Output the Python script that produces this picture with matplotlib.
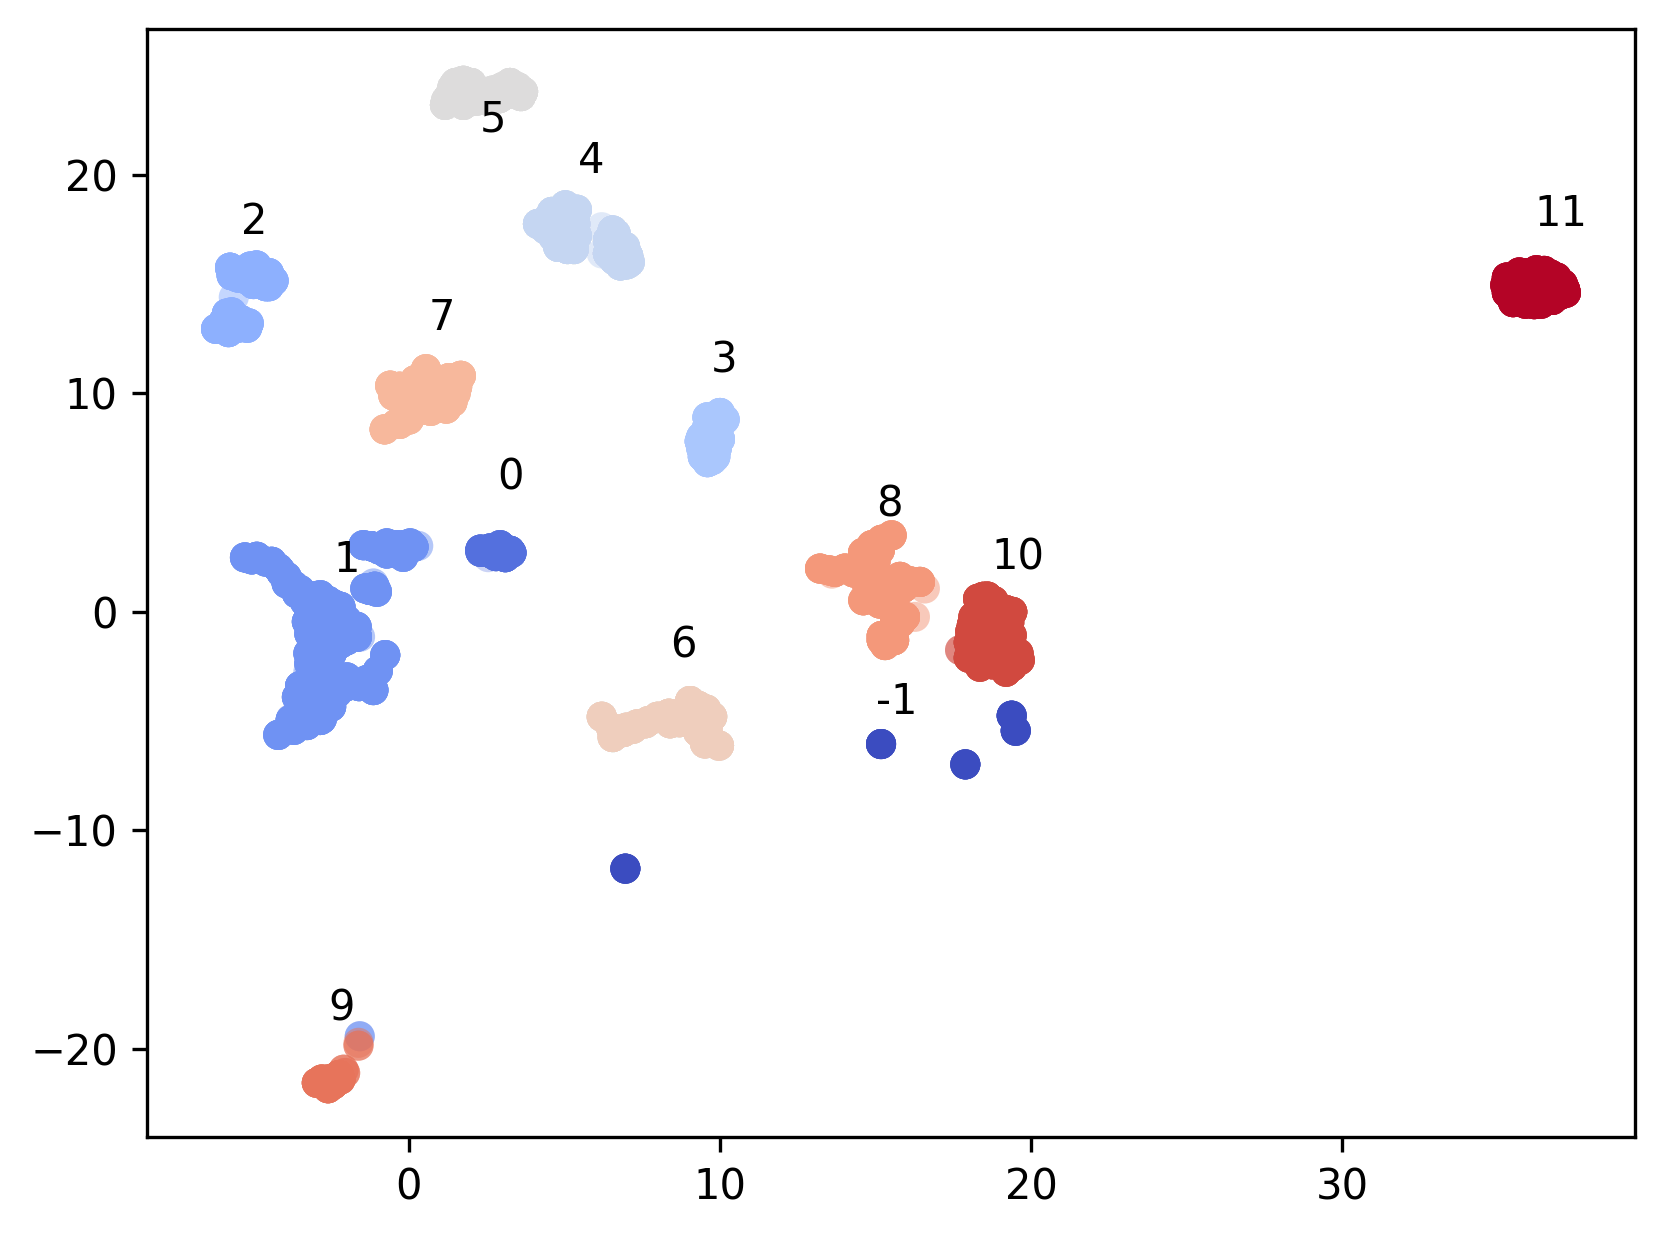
import numpy as np
import matplotlib
matplotlib.use('Agg')
import matplotlib.pyplot as plt

# Pontos de cada grupo
x_m1 = [15.18, 17.89, 19.38, 19.51, 6.96]
y_m1 = [-6.05, -6.98, -4.75, -5.44, -11.75]

x_0 = [2.3, 2.93, 3.25, 3.1, 2.75, 2.6, 2.6, 2.9, 2.5, 2.3, 3.3, 2.8, 3.0]
y_0 = [2.85, 3.05, 2.8, 2.5, 2.8, 2.9, 2.7, 2.65, 2.75, 2.75, 2.7, 2.55, 2.6]

x_1 = [-5.27, -4.89, -4.41, -3.93, -3.93, -2.85, -3.34, -2.37, -3.28, -1.68, -2.53, -2.0, -3.23, -2.48,
       -0.76, -2.75, -1.14, -1.78, -3.28, -2.64, -2.8, -3.28, -4.2, -3.71, -3.5,
       -1.46, -0.71, -0.34, 0.15, -0.71, -0.18, -1.19, -1.4, -1.03,
       -2.9, -3.0, -2.3, -2.6, -3.0,
       -1.2, -0.95, -0.5, -0.1, -0.4, -0.95,
       -5.05, -4.6, -4.2, -4.1, -3.7, -3.5,
       -3.1, -3.2, -2.9, -2.6, -2.7, -2.2, -1.9, -2.9, -3.2, -2.9, -2.7, -3.0,
       -2.4, -2.0, -1.6, -3.0, -3.1, -2.9, -3.1, -3.4, -2.8, -3.7, -3.0, -2.4,
       -1.25, -1.1, -1.25, -1.0,
       -2.2, -2.0, -2.1, -2.75, -1.67, -2.2, -2.3, -2.5, -2.85, -2.0, -3.6, -3.5, -3.07, -3.8,
       -2.3, -1.35, -3.07, -3.2, -4.14, -3.82, -3.6, -3.39, -1.14, -0.5, 0.04]
y_1 = [2.49, 2.52, 2.29, 1.6, 1.3, 0.76, 0.46, 0.31, -0.45, -0.68, -0.84, -1.3, -1.9, -1.9,
       -1.98, -2.82, -3.58, -3.27, -3.58, -3.88, -4.49, -5.18, -5.63, -5.1, -4.49,
       3.05, 3.13, 3.05, 2.97, 2.67, 2.52, 0.99, 1.07, 0.92,
       -0.3, -1.2, -0.2, -3.2, -1.0,
       3.0, 2.95, 3.05, 3.0, 2.7, 2.85,
       2.4, 2.3, 2.0, 1.8, 1.2, 1.0,
       0.7, 0.1, 0.1, 0.5, -0.3, -0.3, -0.7, -1.0, -1.0, -1.7, -2.3, -2.3,
       -2.9, -3.0, -3.4, -3.0, -3.5, -4.0, -4.5, -4.9, -4.9, -5.4, -4.9, -3.6,
       1.0, 1.15, -3.3, -2.7,
       0.23, -0.38, -1.0, 0.23, -1.14, -1.45, -3.7, -4.34, -4.95, -3.4, -3.9, -3.4, -3.73, -4.95,
       -2.97, -3.12, -1.75, -2.36, 1.9, 1.3, 0.84, 0.69, 2.97, 2.75, 3.13]

x_2 = [-5.75, -4.9, -4.35, -5.3, -4.5, -6.2, -5.85, -5.15, -5.8, -5.2,
       -5.5, -5.1, -5.5, -4.9, -4.6, -4.5, -4.8, -5.6,
       -6.0, -5.5, -5.6, -5.95, -5.4, -5.7,
       -5.3, -5.0, -4.6, -5.7, -5.7, -5.4, -5.2]
y_2 = [15.75, 15.85, 15.15, 15.5, 14.9, 12.95, 13.65, 13.2, 12.8, 15.2,
       15.6, 15.8, 15.3, 15.3, 15.3, 15.5, 15.6, 15.4,
       13.0, 13.0, 13.3, 13.3, 13.2, 13.0,
       15.3, 15.0, 14.9, 15.4, 13.7, 13.35, 13.0]

x_3 = [10.0, 10.15, 9.4, 9.6, 9.8, 9.7, 9.6, 9.6, 9.5, 9.6, 9.7, 9.9, 10.0, 9.75, 9.5,
       9.35, 9.9, 10.0, 9.85, 9.6, 9.4, 9.45]
y_3 = [9.1, 8.8, 8.0, 6.85, 7.2, 8.3, 8.9, 8.5, 8.1, 7.6, 7.3, 8.4, 8.6, 6.95, 7.5,
       7.8, 7.5, 7.9, 7.1, 7.0, 7.5, 7.1]

x_4 = [4.15, 5.03, 5.35, 5.1, 4.65, 4.9, 6.55, 7.1, 6.8, 6.4,
       4.4, 4.7, 4.9, 5.2, 4.4, 4.9, 5.3, 5.3, 6.6, 6.5, 6.9, 6.6, 7.0, 6.65,
       4.6, 5.4, 5.4, 5.3, 4.8, 7.05, 6.4, 6.95]
y_4 = [17.75, 18.6, 17.75, 16.6, 17.15, 17.6, 17.45, 16.0, 15.85, 16.4,
       17.9, 18.1, 18.0, 18.2, 17.5, 16.9, 17.1, 18.2, 17.0, 16.7, 16.2, 16.1, 15.9, 17.3,
       18.3, 18.4, 17.2, 16.6, 16.7, 16.3, 17.0, 16.7]

x_5 = [1.16, 1.75, 1.75, 3.25, 3.67, 2.93, 2.5, 3.3, 1.2, 1.5, 2.0, 2.2, 2.7, 3.0, 3.5, 1.3, 2.05, 3.0,
       1.4, 1.9, 2.2, 1.5, 2.9, 3.6, 2.2, 2.5]
y_5 = [23.2, 24.3, 23.2, 24.2, 23.8, 23.75, 23.7, 23.7, 23.4, 23.8, 24.2, 23.6, 23.85, 24.0, 24.0, 23.6, 23.4, 23.6,
       24.0, 24.1, 23.9, 24.2, 23.5, 23.6, 23.4, 23.4]

x_6 = [6.2, 6.55, 7.34, 8.36, 9.04, 9.56, 9.52, 9.97, 8.7, 9.4, 7.0,
       6.9, 7.2, 7.7, 8.0, 8.5, 8.9, 9.3, 9.3, 9.5, 9.8, 9.1, 7.6, 6.5,
       9.3, 9.75, 9.6, 8.8, 8.4]
y_6 = [-4.8, -5.73, -5.15, -4.66, -4.08, -4.47, -6.02, -6.12, -5.05, -5.3, -5.3,
       -5.5, -5.35, -5.0, -4.8, -4.9, -4.5, -4.3, -5.0, -5.6, -6.0, -4.9, -5.1, -5.3,
       -5.5, -4.8, -5.3, -4.7, -5.1]

x_7 = [-0.78, 0.0, -0.6, 0.55, 1.67, 1.2, 0.5, 1.5, 0.0, 1.1,
       -0.3, 0.3, 0.7, -0.2, -0.3, 0.2, 0.55, 0.9, 1.3, 1.0, -0.4, 0.9,
       -0.5, 0.0, 0.2, 1.4, 1.55]
y_7 = [8.35, 8.8, 10.35, 11.1, 10.8, 9.3, 9.9, 10.0, 9.75, 10.4,
       8.6, 9.2, 9.2, 9.8, 10.3, 10.2, 10.5, 10.6, 10.7, 9.5, 8.6, 9.9,
       9.9, 9.2, 10.6, 9.6, 10.3]

x_8 = [13.22, 13.7, 14.02, 15.52, 14.88, 15.14, 14.66, 14.61, 14.72, 15.79, 16.43, 15.57,
       15.95, 15.63, 15.31, 15.57, 15.14,
       13.5, 14.3, 14.6, 15.0, 15.2, 14.9, 15.1, 15.4, 15.9, 16.1, 14.9, 15.4, 15.6, 15.8,
       15.45, 15.2, 14.4, 14.6, 15.2, 15.6]
y_8 = [1.98, 1.83, 1.98, 3.5, 3.05, 2.82, 2.36, 0.53, 1.3, 1.6, 1.37, 1.0,
       -0.23, -0.23, -1.52, -1.0, 0.38,
       1.9, 1.8, 1.8, 2.3, 3.3, 1.5, 1.0, 1.3, 1.1, 1.4, 0.6, 0.5, 0.2, -0.5,
       -1.2, -1.3, 2.0, 2.7, -1.1, -1.3]

x_9 = [-2.96, -2.43, -2.6, -2.8, -2.75, -2.2, -2.25, -2.6]
y_9 = [-21.55, -21.63, -21.4, -21.4, -21.6, -21.4, -21.2, -21.8]

x_10 = [18.47, 19.2, 18.15, 19.38, 19.64, 19.2, 18.36, 18.04, 18.79, 18.79,
        18.6, 18.9, 18.4, 18.7, 19.0, 18.4, 18.8, 19.1, 18.4, 19.1, 18.2, 18.5, 19.1, 19.3,
        19.0, 18.75, 18.2, 19.4, 18.3, 18.9,
        18.05, 18.1, 18.0, 19.3, 19.4, 18.3, 18.6, 19.6, 19.4, 18.0]
y_10 = [0.69, 0.08, -0.23, -1.07, -2.21, -2.74, -2.51, -1.83, -0.84, -1.9,
        0.3, 0.2, -0.2, -0.4, -0.4, -0.9, 0.5, -0.6, -1.3, -1.4, -1.5, -2.0, -2.0, -1.8,
        -2.4, -2.4, -2.1, -2.3, -0.4, -0.1,
        -0.9, -0.6, -2.1, -0.5, 0.0, 0.6, 0.7, -1.9, -2.5, -1.4]

x_11 = [35.25, 37.17, 36.25, 35.5, 36.18, 36.76, 35.7, 36.7, 36.18,
        35.7, 36.6, 36.9, 35.6, 36.0, 36.4, 37.0, 35.9, 36.5, 37.0, 35.3, 35.3, 35.9, 37.1, 36.9, 37.2]
y_11 = [14.95, 14.76, 15.63, 14.17, 14.08, 14.27, 15.53, 15.44, 14.85,
        15.0, 15.0, 14.9, 14.6, 14.3, 14.1, 14.5, 15.5, 15.6, 15.1, 14.6, 15.3, 14.1, 15.0, 15.3, 14.6]

# Pontos fracos, com poucos pontos empilhados (grupo e quantidade em cada um)
fraco_x = [2.55, -3.23, -3.8, -1.57, 0.3, -1.14, -5.63, 9.9, 6.2, 6.2,
           13.6, 16.59, 16.27, 17.72, -1.58, -1.62, -1.62, -2.05, -2.1]
fraco_y = [2.5, -2.74, -4.9, -1.14, 3.02, 1.3, 14.4, 8.0, 17.6, 16.4,
           1.75, 1.07, -0.23, -1.75, -19.42, -19.72, -19.85, -21.1, -20.95]
fraco_g = [0, 1, 1, 1, 1, 1, 2, 3, 4, 4, 8, 8, 8, 10, 1, 9, 9, 9, 9]
fraco_n = [1, 2, 2, 2, 2, 2, 2, 2, 2, 2, 2, 2, 2, 3, 4, 2, 4, 5, 5]

# Rotulos escritos sobre os grupos
rotulos = ['-1', '0', '1', '2', '3', '4', '5', '6', '7', '8', '9', '10', '11']
rotulos_x = [15.68, 3.28, -2.0, -4.97, 10.15, 5.85, 2.7, 8.81, 1.07, 15.44, -2.17, 19.57, 37.04]
rotulos_y = [-4.13, 6.16, 2.37, 17.86, 11.52, 20.63, 22.55, -1.56, 13.45, 4.9, -18.16, 2.47, 18.22]

grupos = [(-1, x_m1, y_m1), (0, x_0, y_0), (1, x_1, y_1), (2, x_2, y_2), (3, x_3, y_3), (4, x_4, y_4),
          (5, x_5, y_5), (6, x_6, y_6), (7, x_7, y_7), (8, x_8, y_8), (9, x_9, y_9), (10, x_10, y_10),
          (11, x_11, y_11)]

# Os fracos vao primeiro, os grupos cheios ficam por cima
xs = list(np.repeat(fraco_x, fraco_n))
ys = list(np.repeat(fraco_y, fraco_n))
cs = list(np.repeat(fraco_g, fraco_n))
for rotulo, gx, gy in grupos:
    xs.extend(np.repeat(gx, 15))
    ys.extend(np.repeat(gy, 15))
    cs.extend([rotulo] * (15 * len(gx)))

fig = plt.figure(figsize=(1665 / 300, 1237 / 300), dpi=300)
ax = fig.add_axes([147 / 1665, 1 - 1137 / 1237, 1488 / 1665, 1108 / 1237])
ax.scatter(xs, ys, c=cs, cmap='coolwarm', vmin=-1, vmax=11, s=52, alpha=0.3, linewidths=0)

for r, tx, ty in zip(rotulos, rotulos_x, rotulos_y):
    ax.text(tx, ty, r, ha='center', va='center')

ax.set_xlim(-8.42, 39.42)
ax.set_ylim(-24.03, 26.67)
ax.set_xticks([0, 10, 20, 30])
ax.set_yticks([-20, -10, 0, 10, 20])

fig.savefig('out.png', dpi=300)
